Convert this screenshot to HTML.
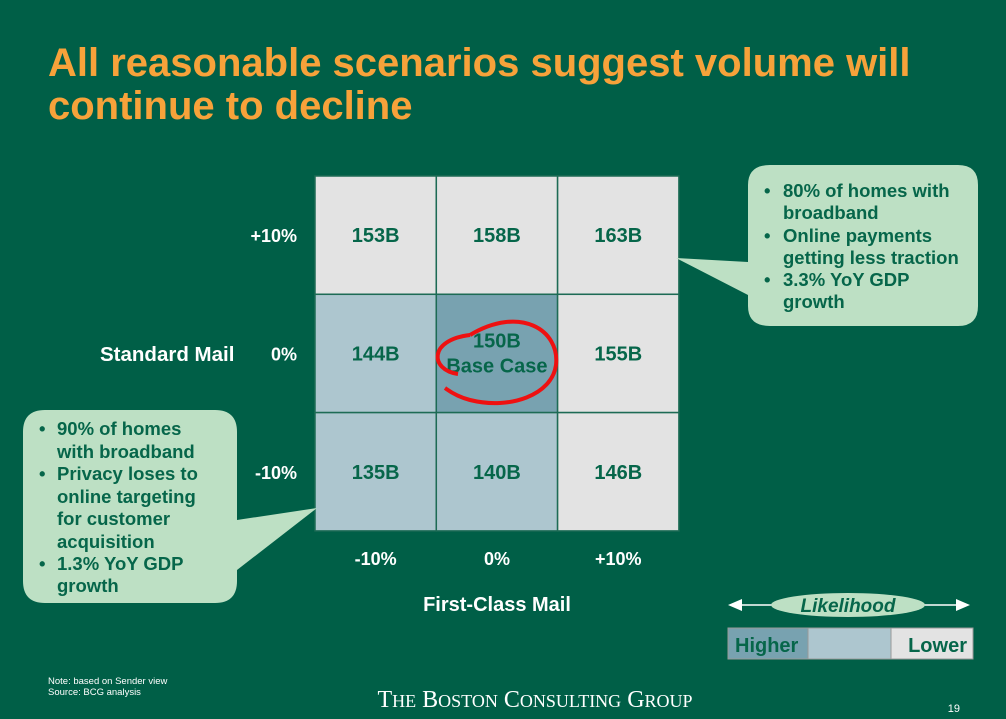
<!DOCTYPE html>
<html><head><meta charset="utf-8"><style>
body{margin:0;width:1006px;height:719px;overflow:hidden;background:#005f47;font-family:"Liberation Sans",sans-serif}
svg{display:block}
</style></head><body>
<svg width="1006" height="719" font-family="Liberation Sans, sans-serif">
<rect width="1006" height="719" fill="#005f47"/>
<text x="48" y="76" fill="#f7a23a" font-size="40" font-weight="bold">All reasonable scenarios suggest volume will</text>
<text x="48" y="119" fill="#f7a23a" font-size="40" font-weight="bold">continue to decline</text>
<g id="grid"></g>
<g id="labels" fill="#fff" font-weight="bold" font-size="18"></g>
<text x="100" y="361" fill="#fff" font-size="20.5" font-weight="bold">Standard Mail</text>
<text x="497" y="611" fill="#fff" font-size="20" font-weight="bold" text-anchor="middle">First-Class Mail</text>
<g><path d="M470 335 C 520 305,560 330,556 365 C 552 395,510 410,470 400 C 455 396,448 390,445 388" fill="none" stroke="#ee1111" stroke-width="4"/><path d="M458 374 C 430 370,428 340,470 335" fill="none" stroke="#ee1111" stroke-width="4"/></g>
<g>
<path d="M770 165 H958 Q978 165 978 185 V306 Q978 326 958 326 H770 Q748 326 748 306 V295 L676 258 L748 262 V185 Q748 165 770 165Z" fill="#bde0c4"/>
<g fill="#06664a" font-size="18.5" font-weight="bold">
<text x="764" y="197">•</text><text x="783" y="197">80% of homes with</text><text x="783" y="219">broadband</text>
<text x="764" y="242">•</text><text x="783" y="242">Online payments</text><text x="783" y="264">getting less traction</text>
<text x="764" y="286">•</text><text x="783" y="286">3.3% YoY GDP</text><text x="783" y="308">growth</text></g></g>
<g>
<path d="M45 410 H215 Q237 410 237 432 V520 L317 508 L237 570 V581 Q237 603 215 603 H45 Q23 603 23 581 V432 Q23 410 45 410Z" fill="#bde0c4"/>
<g fill="#06664a" font-size="18.5" font-weight="bold">
<text x="39" y="435">•</text><text x="57" y="435">90% of homes</text><text x="57" y="458">with broadband</text>
<text x="39" y="480">•</text><text x="57" y="480">Privacy loses to</text><text x="57" y="503">online targeting</text><text x="57" y="525">for customer</text><text x="57" y="548">acquisition</text>
<text x="39" y="570">•</text><text x="57" y="570">1.3% YoY GDP</text><text x="57" y="592">growth</text></g></g>
<g>
<line x1="735" y1="605" x2="965" y2="605" stroke="#fff" stroke-width="1.5"/>
<polygon points="728,605 742,599 742,611" fill="#fff"/><polygon points="970,605 956,599 956,611" fill="#fff"/>
<ellipse cx="848" cy="605" rx="77" ry="12" fill="#bde0c4"/>
<text x="848" y="612" text-anchor="middle" fill="#06664a" font-size="19" font-weight="bold" font-style="italic">Likelihood</text>
<rect x="728" y="628" width="80" height="31" fill="#78a2b0" stroke="#999"/>
<rect x="808" y="628" width="83" height="31" fill="#adc6cf" stroke="#999"/>
<rect x="891" y="628" width="82" height="31" fill="#e3e3e3" stroke="#999"/>
<text x="735" y="652" fill="#06664a" font-size="20" font-weight="bold">Higher</text>
<text x="967" y="652" text-anchor="end" fill="#06664a" font-size="20" font-weight="bold">Lower</text></g>
<text x="48" y="684" fill="#fff" font-size="9.5">Note:  based on Sender view</text>
<text x="48" y="695" fill="#fff" font-size="9.5">Source: BCG analysis</text>
<text x="535" y="707" fill="#fff" font-size="24" font-family="Liberation Serif, serif" text-anchor="middle">T<tspan font-size="18">HE</tspan> B<tspan font-size="18">OSTON</tspan> C<tspan font-size="18">ONSULTING</tspan> G<tspan font-size="18">ROUP</tspan></text>
<text x="960" y="712" fill="#fff" font-size="11" text-anchor="end">19</text>
</svg>
<script>
const rowLabels=["+10%","0%","-10%"];
const colLabels=["-10%","0%","+10%"];
const volumes=[[153,158,163],[144,150,155],[135,140,146]];
const likelihood=[[0,0,0],[1,2,0],[1,1,0]];
const fills=["#e3e3e3","#adc6cf","#78a2b0"];
const NS="http://www.w3.org/2000/svg";
const x0=315,y0=176,cw=121.3,ch=118.3;
const colX=i=>x0+i*cw, rowY=j=>y0+j*ch;
const g=document.getElementById('grid'),L=document.getElementById('labels');
function mk(t,a,p){const e=document.createElementNS(NS,t);for(const k in a)e.setAttribute(k,a[k]);p.appendChild(e);return e;}
volumes.forEach((row,j)=>row.forEach((v,i)=>{
 const r=mk('rect',{x:colX(i),y:rowY(j),width:cw,height:ch,fill:fills[likelihood[j][i]],stroke:"#1d6b55","stroke-width":1.5},g);
 
 
 const base=(j===1&&i===1);
 const t=mk('text',{x:colX(i)+cw/2,y:rowY(j)+ch/2+(base?-6:7),"text-anchor":"middle",fill:"#06664a","font-size":20,"font-weight":"bold"},g);
 t.textContent=v+"B";
 
 
 if(base){const b=mk('text',{x:colX(i)+cw/2,y:rowY(j)+ch/2+19,"text-anchor":"middle",fill:"#06664a","font-size":20,"font-weight":"bold"},g);b.textContent="Base Case";
 
 }
}));
rowLabels.forEach((l,j)=>{const t=mk('text',{x:297,y:rowY(j)+ch/2+7,"text-anchor":"end"},L);t.textContent=l;
 
 });
colLabels.forEach((l,i)=>{const t=mk('text',{x:colX(i)+cw/2,y:565,"text-anchor":"middle"},L);t.textContent=l;
 
 });
</script>
</body></html>
